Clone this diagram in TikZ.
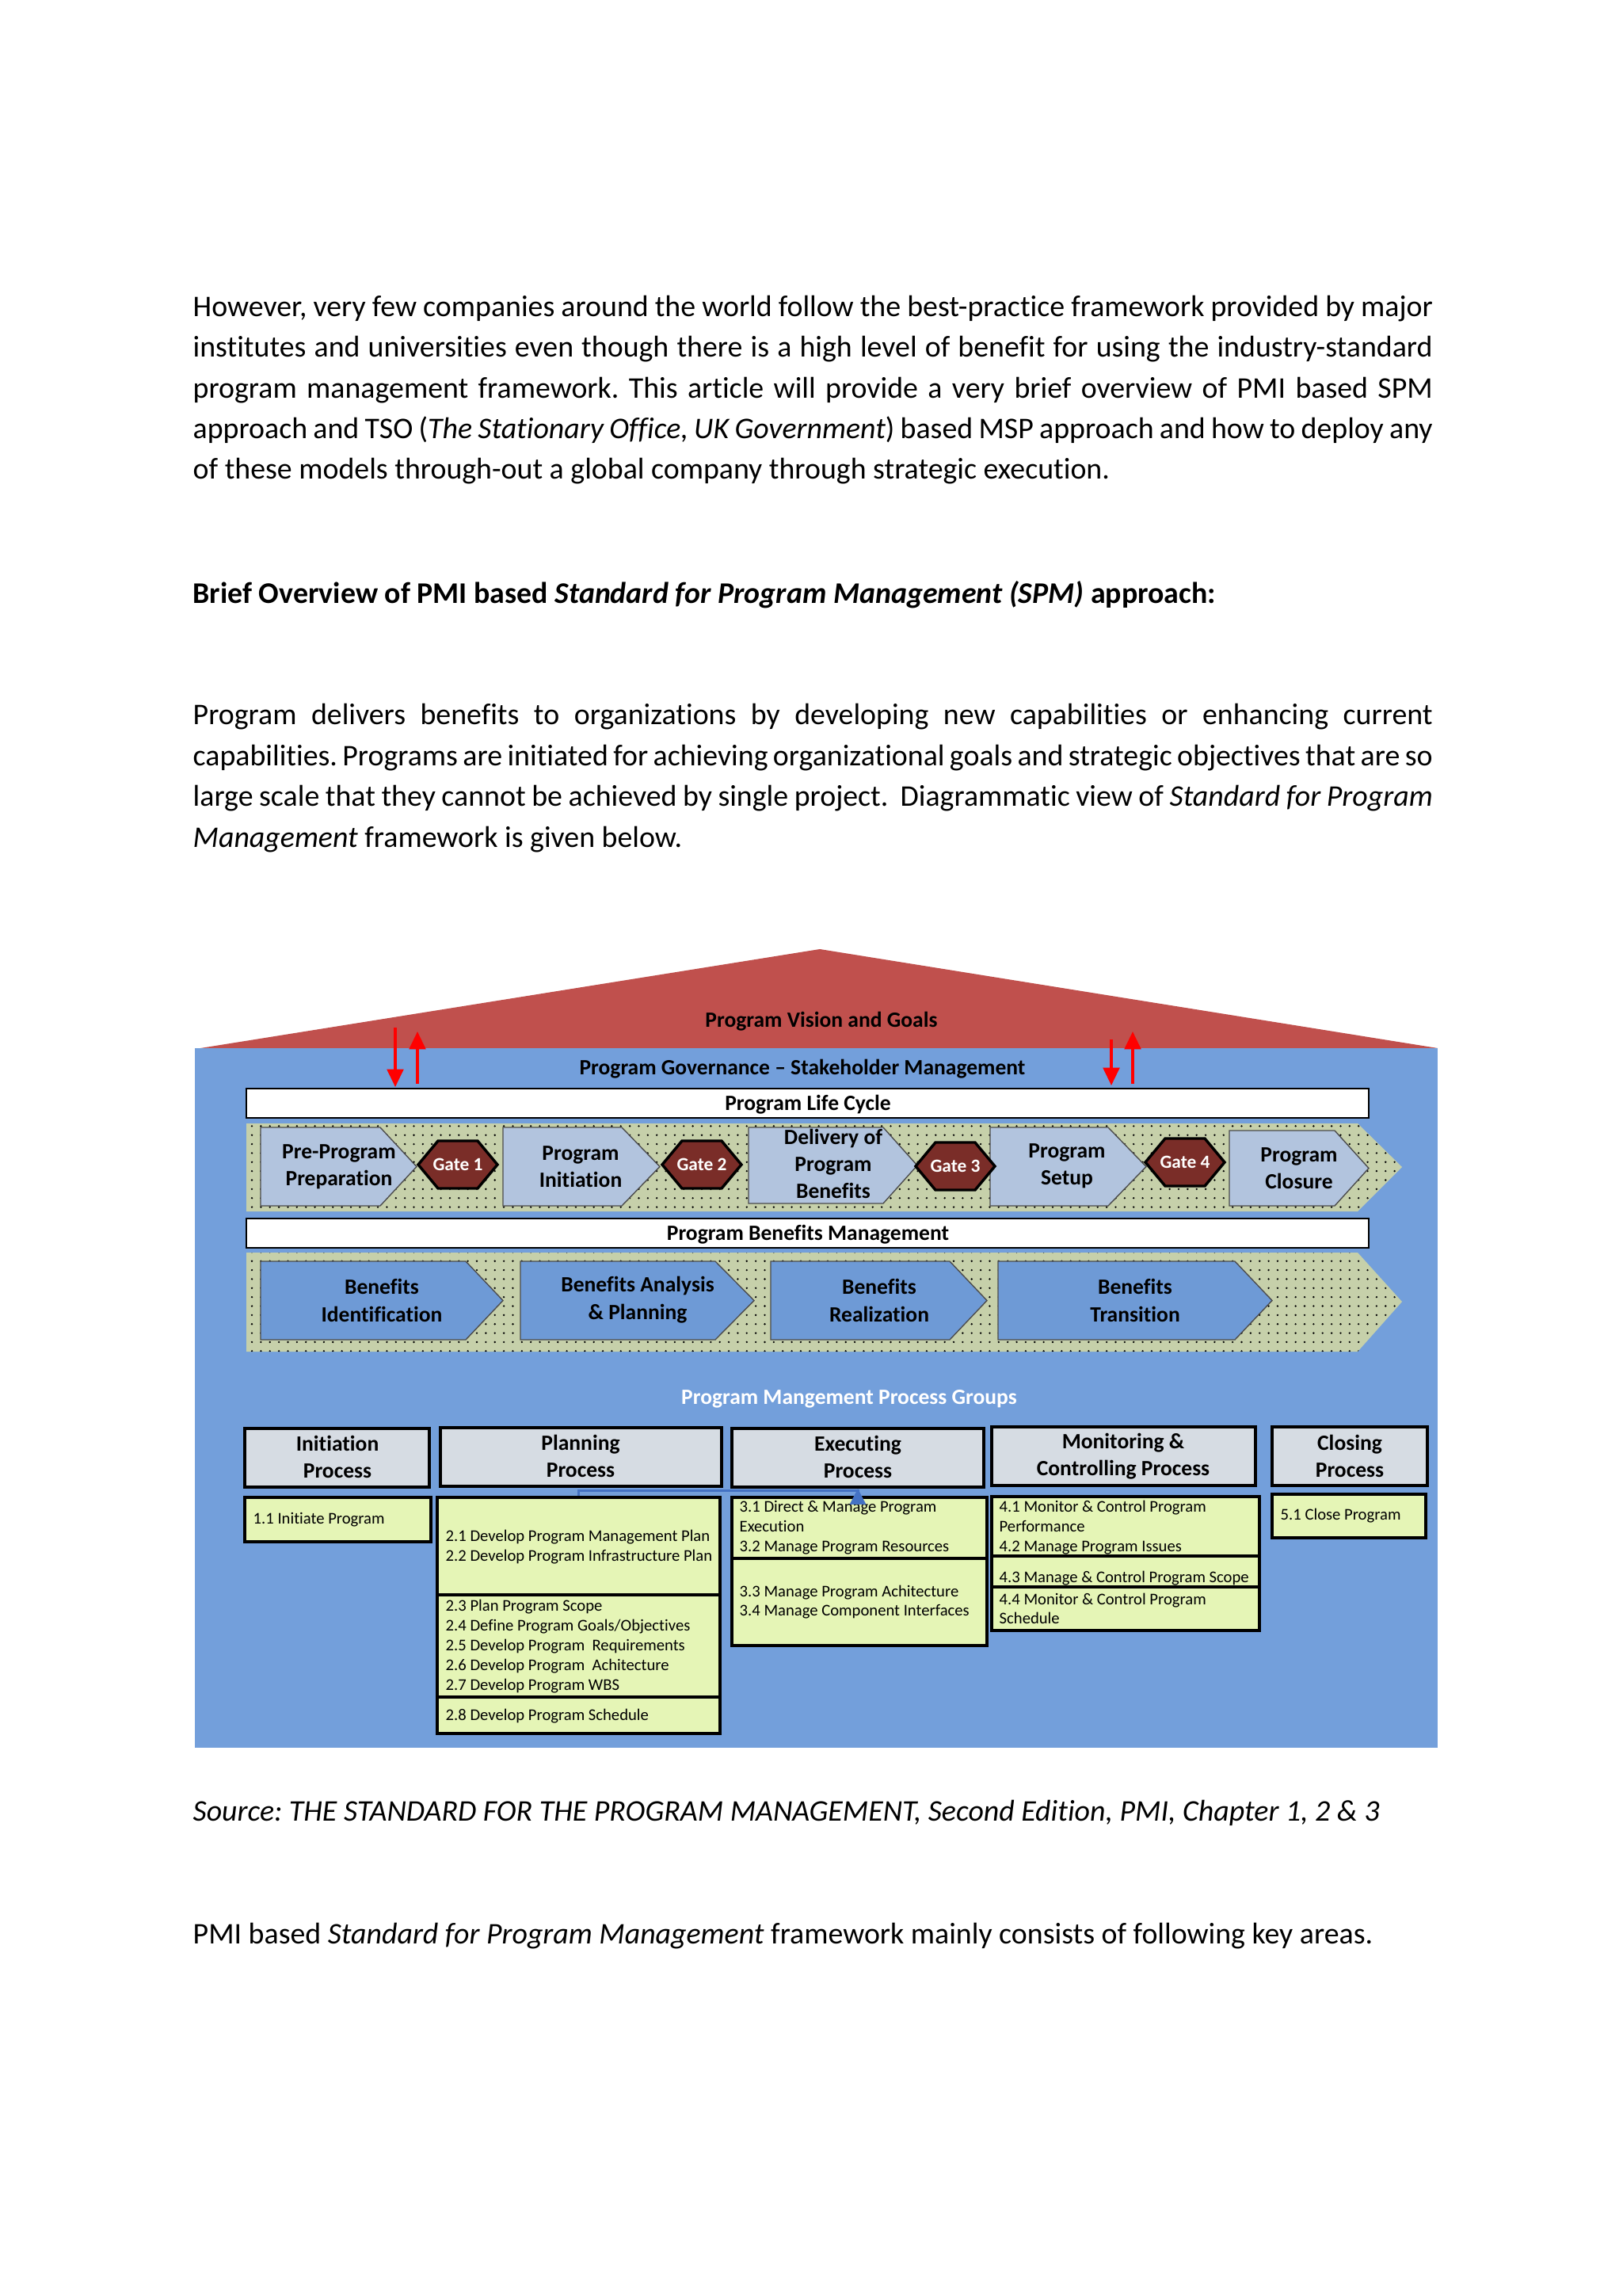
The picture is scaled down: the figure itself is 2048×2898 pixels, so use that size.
\documentclass[tikz,border=0pt]{standalone}
\usepackage{fontspec}
\setmainfont[Ligatures=NoCommon]{Carlito}
\usetikzlibrary{patterns.meta,arrows.meta,fit}
\definecolor{roofred}{RGB}{192,80,77}
\definecolor{bgblue}{RGB}{115,159,219}
\definecolor{lcblue}{RGB}{178,196,222}
\definecolor{bnblue}{RGB}{110,154,214}
\definecolor{bandcol}{RGB}{198,208,170}
\definecolor{gatecol}{RGB}{122,45,40}
\definecolor{hdrcol}{RGB}{214,220,227}
\definecolor{itemcol}{RGB}{229,245,182}
\definecolor{connblue}{RGB}{68,114,196}
\frenchspacing
\begin{document}
\begin{tikzpicture}[x=0.29053pt,y=-0.29053pt,
  body/.style={anchor=base west,inner sep=0,font=\fontsize{11}{14}\selectfont},
  dtitle/.style={anchor=base,inner sep=0,font=\bfseries\fontsize{8}{9.6}\selectfont},
  chevtext/.style={inner sep=0,align=center,font=\bfseries\fontsize{8}{9.8}\selectfont},
  bentext/.style={inner sep=0,align=center,font=\bfseries\fontsize{8}{10.2}\selectfont},
  hdrtext/.style={inner sep=0,align=center,font=\bfseries\fontsize{8}{9.8}\selectfont},
  gatetext/.style={inner sep=0,text=white,font=\bfseries\fontsize{6.8}{7}\selectfont},
  itemtext/.style={anchor=base west,inner sep=0,font=\fontsize{6}{7.2}\selectfont},
  band/.style={fill=bandcol,postaction={pattern={Dots[distance=3.3pt,radius=0.38pt]},pattern color=black}},
  lcchev/.style={fill=lcblue,draw=black!70,line width=0.4pt},
  bnchev/.style={fill=bnblue,draw=black!70,line width=0.4pt},
  gatehex/.style={fill=gatecol,draw=black,line width=1pt},
  bar/.style={fill=white,draw=black,line width=0.6pt,inner sep=0},
  hdr/.style={fill=hdrcol,draw=black,line width=1.1pt,inner sep=0},
  item/.style={fill=itemcol,draw=black,line width=1.1pt,inner sep=0},
  redarrow/.style={red,line width=0.95pt,-{Triangle[width=6pt,length=6.5pt]}},
  conn/.style={connblue,line width=0.9pt,-{Triangle[width=5.8pt,length=5.8pt]}}
]
\fill[white] (0,0) rectangle (2048,2898);
\useasboundingbox (0,0) rectangle (2048,2898);

% ---------- body text ----------
\node[body] (p1a) at (243,399.3) {\makebox[454.7pt][s]{However, very few companies around the world follow the best-practice framework provided by major}};
\node[body] (p1b) at (243,451) {\makebox[454.7pt][s]{institutes and universities even though there is a high level of benefit for using the industry-standard}};
\node[body] (p1c) at (243,502.3) {\makebox[454.7pt][s]{program management framework. This article will provide a very brief overview of PMI based SPM}};
\node[body] (p1d) at (243,553.3) {\makebox[454.7pt][s]{approach and TSO (\textit{The Stationary Office, UK Government}) based MSP approach and how to deploy any}};
\node[body] (p1e) at (243,604.3) {of these models through-out a global company through strategic execution.};

\node[body] (hd) at (243,761) {\textbf{Brief Overview of PMI based \textit{Standard for Program Management (SPM)} approach:}};

\node[body] (p2a) at (243,914.3) {\makebox[454.7pt][s]{Program delivers benefits to organizations by developing new capabilities or enhancing current}};
\node[body] (p2b) at (243,966.7) {\makebox[454.7pt][s]{capabilities. Programs are initiated for achieving organizational goals and strategic objectives that are so}};
\node[body] (p2c) at (243,1017.7) {\makebox[454.7pt][s]{large scale that they cannot be achieved by single project.\ \ Diagrammatic view of \textit{Standard for Program}}};
\node[body] (p2d) at (243,1069.3) {\textit{Management} framework is given below.};

\node[body] (src) at (243,2298) {\textit{Source: THE STANDARD FOR THE PROGRAM MANAGEMENT, Second Edition, PMI, Chapter 1, 2 \& 3}};
\node[body] (p3) at (243,2453) {PMI based \textit{Standard for Program Management} framework mainly consists of following key areas.};

% ---------- diagram background ----------
\fill[roofred] (253,1323) -- (1035,1198) -- (1815,1323) -- cycle;
\fill[bgblue] (246,1323) rectangle (1815,2206);

\node[dtitle] (vision) at (1037,1296) {Program Vision and Goals};
\node[dtitle] (gov) at (1013,1356) {Program Governance -- Stakeholder Management};

% red arrows
\coordinate (ra1s) at (499,1297); \coordinate (ra1e) at (499,1372);
\coordinate (ra2s) at (527,1368); \coordinate (ra2e) at (527,1302);
\coordinate (ra3s) at (1403,1312); \coordinate (ra3e) at (1403,1370);
\coordinate (ra4s) at (1430,1368); \coordinate (ra4e) at (1430,1302);
\draw[redarrow] (ra1s) -- (ra1e);
\draw[redarrow] (ra2s) -- (ra2e);
\draw[redarrow] (ra3s) -- (ra3e);
\draw[redarrow] (ra4s) -- (ra4e);

% ---------- program life cycle ----------
\node[bar,fit={(311,1374)(1728,1411)}] (lcbar) {};
\node[dtitle] (lcbart) at (1020,1401) {Program Life Cycle};
\path[band] (311,1418) -- (1714,1418) -- (1770,1473) -- (1714,1529) -- (311,1529) -- cycle;

\draw[lcchev] (329,1423) -- (480,1423) -- (526,1472.5) -- (480,1522) -- (329,1522) -- cycle;
\draw[lcchev] (635,1423) -- (785,1423) -- (833,1472.5) -- (785,1522) -- (635,1522) -- cycle;
\draw[lcchev] (945,1423) -- (1115,1423) -- (1158,1471) -- (1115,1519) -- (945,1519) -- cycle;
\draw[lcchev] (1250,1423) -- (1399,1423) -- (1447,1472.5) -- (1399,1522) -- (1250,1522) -- cycle;
\draw[lcchev] (1552,1427) -- (1685,1427) -- (1728,1474.5) -- (1685,1522) -- (1552,1522) -- cycle;

\node[chevtext] (lc1) at (428,1473) {Pre-Program\\Preparation};
\node[chevtext] (lc2) at (733,1473) {Program\\Initiation};
\node[chevtext] (lc3) at (1052,1469) {Delivery of\\Program\\Benefits};
\node[chevtext] (lc4) at (1347,1472) {Program\\Setup};
\node[chevtext] (lc5) at (1640,1475) {Program\\Closure};

\foreach \gx/\gy/\gn in {578/1470/1, 886/1470/2, 1206/1472/3, 1496/1467/4}{
  \draw[gatehex,shift={(\gx,\gy)}] (-50,0) -- (-25,-30) -- (25,-30) -- (50,0) -- (25,30) -- (-25,30) -- cycle;
  \node[gatetext] (gate\gn) at (\gx,\gy) {Gate \gn};
}

% ---------- program benefits management ----------
\node[bar,fit={(311,1538)(1728,1575)}] (bnbar) {};
\node[dtitle] (bnbart) at (1020,1565) {Program Benefits Management};
\path[band] (311,1581) -- (1714,1581) -- (1770,1643) -- (1714,1706) -- (311,1706) -- cycle;

\draw[bnchev] (329,1592) -- (588,1592) -- (635,1641.5) -- (588,1691) -- (329,1691) -- cycle;
\draw[bnchev] (657,1592) -- (903,1592) -- (952,1641.5) -- (903,1691) -- (657,1691) -- cycle;
\draw[bnchev] (973,1592) -- (1199,1592) -- (1246,1641.5) -- (1199,1691) -- (973,1691) -- cycle;
\draw[bnchev] (1260,1592) -- (1559,1592) -- (1606,1641.5) -- (1559,1691) -- (1260,1691) -- cycle;

\node[bentext] (bn1) at (482,1641) {Benefits\\Identification};
\node[bentext] (bn2) at (805,1641) {Benefits Analysis\\\& Planning};
\node[bentext] (bn3) at (1110,1641) {Benefits\\Realization};
\node[bentext] (bn4) at (1433,1641) {Benefits\\Transition};

% ---------- process groups ----------
\node[dtitle,text=white] (pg) at (1072,1772) {Program Mangement Process Groups};

\node[hdr,fit={(309,1803)(542,1877)}] (h1) {};
\node[hdr,fit={(556,1802)(911,1876)}] (h2) {};
\node[hdr,fit={(924,1803)(1242,1877)}] (h3) {};
\node[hdr,fit={(1252,1801)(1585,1875)}] (h4) {};
\node[hdr,fit={(1606,1801)(1802,1875)}] (h5) {};
\node[hdrtext] (h1t) at (426,1839) {Initiation\\Process};
\node[hdrtext] (h2t) at (733,1838) {Planning\\Process};
\node[hdrtext] (h3t) at (1083,1839) {Executing\\Process};
\node[hdrtext] (h4t) at (1418,1838) {Monitoring \&\\Controlling Process};
\node[hdrtext] (h5t) at (1704,1838) {Closing\\Process};

\node[item,fit={(309,1890)(544,1946)}] (i1) {};
\node[item,fit={(552,1890)(909,2013)}] (pl1) {};
\node[item,fit={(552,2013)(909,2142)}] (pl2) {};
\node[item,fit={(552,2142)(909,2188)}] (pl3) {};
\node[item,fit={(924,1890)(1246,1967)}] (ex1) {};
\node[item,fit={(924,1967)(1246,2077)}] (ex2) {};
\node[item,fit={(1252,1889)(1590,1964)}] (mc1) {};
\node[item,fit={(1252,1964)(1590,2003)}] (mc2) {};
\node[item,fit={(1252,2003)(1590,2058)}] (mc3) {};
\node[item,fit={(1606,1886)(1800,1941)}] (cl1) {};

\node[itemtext] (t11) at (319,1923) {1.1 Initiate Program};
\node[itemtext] (t21) at (562,1945) {2.1 Develop Program Management Plan};
\node[itemtext] (t22) at (562,1970) {2.2 Develop Program Infrastructure Plan};
\node[itemtext] (t23) at (562,2033) {2.3 Plan Program Scope};
\node[itemtext] (t24) at (562,2058) {2.4 Define Program Goals/Objectives};
\node[itemtext] (t25) at (562,2083) {2.5 Develop Program\ \ Requirements};
\node[itemtext] (t26) at (562,2108) {2.6 Develop Program\ \ Achitecture};
\node[itemtext] (t27) at (562,2133) {2.7 Develop Program WBS};
\node[itemtext] (t28) at (562,2171) {2.8 Develop Program Schedule};
\node[itemtext] (t31) at (933,1908) {3.1 Direct \& Manage Program};
\node[itemtext] (t31b) at (933,1933) {Execution};
\node[itemtext] (t32) at (933,1958) {3.2 Manage Program Resources};
\node[itemtext] (t33) at (933,2015) {3.3 Manage Program Achitecture};
\node[itemtext] (t34) at (933,2039) {3.4 Manage Component Interfaces};
\node[itemtext] (t41) at (1261,1908) {4.1 Monitor \& Control Program};
\node[itemtext] (t41b) at (1261,1933) {Performance};
\node[itemtext] (t42) at (1261,1958) {4.2 Manage Program Issues};
\node[itemtext] (t43) at (1261,1997) {4.3 Manage \& Control Program Scope};
\node[itemtext] (t44) at (1261,2025) {4.4 Monitor \& Control Program};
\node[itemtext] (t44b) at (1261,2049) {Schedule};
\node[itemtext] (t51) at (1616,1918) {5.1 Close Program};

% connector planning -> executing
\draw[conn] (pl1.north) -- ++(0,-7) -| (h3.south);
\end{tikzpicture}
\end{document}
